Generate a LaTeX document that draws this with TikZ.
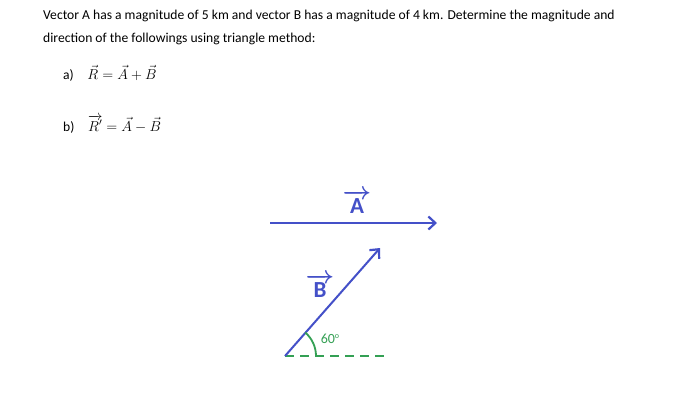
\documentclass[tikz,border=0pt]{standalone}
\usepackage{fontspec}
\setmainfont{Carlito}
\usetikzlibrary{arrows.meta,positioning}
\definecolor{vecblue}{RGB}{68,80,200}
\definecolor{anggreen}{RGB}{52,160,84}

\begin{document}
\begin{tikzpicture}[x=1pt, y=-1pt,
		txt/.style = {anchor=base west, inner sep=0pt, font=\fontsize{13.6}{16}\selectfont},
		vec/.style = {vecblue, line width=2.2pt, -{Straight Barb[length=7pt, width=13pt, line width=2.2pt]}},
		veclabel/.style = {vecblue, inner sep=0pt, font=\fontsize{23}{26}\selectfont\bfseries\boldmath}]
			\useasboundingbox[fill=white] (0,0) rectangle (700,408);
			% question text
			\node[txt] (q1) at (43,19) {Vector A has a magnitude of 5 km and vector B has a magnitude of 4 km. Determine the magnitude and};
			\node[txt] (q2) at (43,42) {direction of the followings using triangle method:};
			\node[txt] (pa) at (63,79) {a)\quad $\vec{R} = \vec{A} + \vec{B}$};
			\node[txt] (pb) at (63,131) {b)\quad $\overrightarrow{R'} = \vec{A} - \vec{B}$};
			% vector A
			\coordinate (a0) at (270,223);
			\coordinate (a1) at (437,223);
			\draw[vec] (a0) -- (a1);
			\node[veclabel] (la) at (357,202) {$\overrightarrow{\textbf{A}}$};
			% vector B with angle
			\coordinate (b0) at (285,356);
			\coordinate (b1) at (380,248);
			\coordinate (d1) at (384,356);
			\draw[anggreen, line width=2.2pt, dash pattern=on 9pt off 6pt] (b0) -- (d1);
			\draw[vec, line width=2pt] (b0) -- (b1);
			\draw[anggreen, line width=1.8pt] ([xshift=31pt]b0) arc[start angle=0, end angle=49, radius=31pt];
			\node[veclabel] (lb) at (320,286) {$\overrightarrow{\textbf{B}}$};
			\node[anggreen, inner sep=0pt, font=\fontsize{14}{16}\selectfont] (ang) at (330,339) {60\raisebox{5pt}{\fontsize{8}{8}\selectfont o}};
		\end{tikzpicture}
\end{document}
